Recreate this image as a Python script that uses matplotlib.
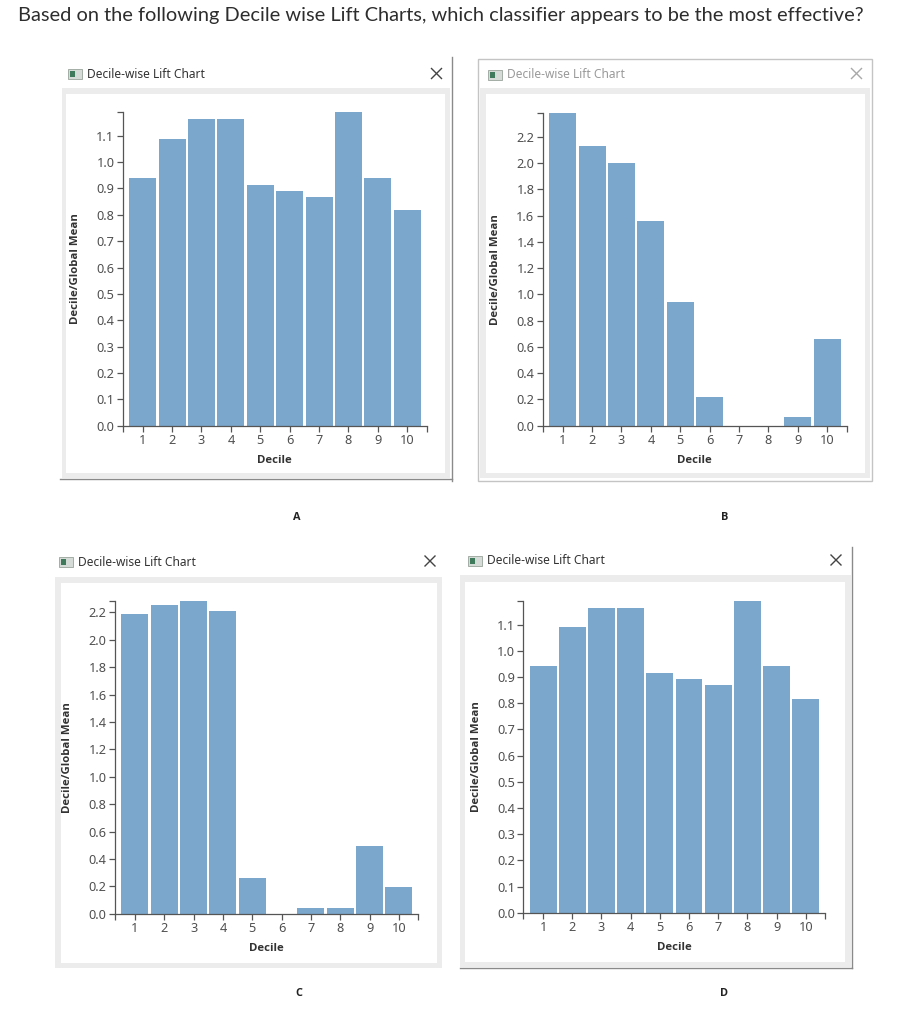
import matplotlib
matplotlib.use("Agg")
import matplotlib.pyplot as plt
from matplotlib.patches import Rectangle
from matplotlib.lines import Line2D

# decile-wise lift values
deciles = [1, 2, 3, 4, 5, 6, 7, 8, 9, 10]
lift_a = [0.940, 1.088, 1.164, 1.164, 0.915, 0.891, 0.869, 1.189, 0.940, 0.818]
lift_b = [2.379, 2.132, 2.003, 1.562, 0.941, 0.219, 0.0, 0.0, 0.066, 0.664]
lift_c = [2.185, 2.254, 2.283, 2.207, 0.263, 0.0, 0.044, 0.044, 0.495, 0.195]
lift_d = [0.941, 1.090, 1.166, 1.166, 0.916, 0.892, 0.869, 1.192, 0.941, 0.818]
ticks_small = [0.0, 0.1, 0.2, 0.3, 0.4, 0.5, 0.6, 0.7, 0.8, 0.9, 1.0, 1.1]
ticks_big = [0.0, 0.2, 0.4, 0.6, 0.8, 1.0, 1.2, 1.4, 1.6, 1.8, 2.0, 2.2]
panel_letters = ["A", "B", "C", "D"]

W, H = 917, 1024
BAR = "#7ba7cc"
AXC = "#555555"
FONT = "Noto Sans"
BOLD = "Open Sans"

fig = plt.figure(figsize=(W / 100, H / 100), dpi=100)


def fx(x):
    return x / W


def fy(y):
    return 1 - y / H


def rect(x0, y0, x1, y1, z=-5, **kw):
    r = Rectangle((fx(x0), fy(y1)), fx(x1) - fx(x0), fy(y0) - fy(y1),
                  transform=fig.transFigure, zorder=z, **kw)
    fig.add_artist(r)


def line(xs, ys, **kw):
    fig.add_artist(Line2D([fx(v) for v in xs], [fy(v) for v in ys],
                          transform=fig.transFigure, **kw))


def window(title, tx, ty, frame, inner, active=True):
    # title bar text, icon and frame around the plot
    col = "#333333" if active else "#9a9a9a"
    rect(tx - 19, ty - 5, tx - 5, ty + 5, facecolor="#d5dbd6", edgecolor="#9aa39c", lw=0.6)
    rect(tx - 17, ty - 3, tx - 12, ty + 3, z=-4, facecolor="#3f7a5c", edgecolor="none")
    fig.text(fx(tx), fy(ty), title, fontsize=8.6, color=col, family=FONT,
             va="center", ha="left")
    rect(*frame, facecolor="#ececec", edgecolor="none")
    rect(*inner, z=-4, facecolor="white", edgecolor="none")


def close_x(cx, cy, col):
    s = 5
    line([cx - s, cx + s], [cy - s, cy + s], color=col, lw=1.0)
    line([cx - s, cx + s], [cy + s, cy - s], color=col, lw=1.0)


def lift_axes(box, values, yticks):
    left, right, bottom, top = box
    ax = fig.add_axes([fx(left), fy(bottom), fx(right) - fx(left), fy(top) - fy(bottom)])
    ax.patch.set_alpha(0)
    ax.bar(deciles, values, width=0.92, color=BAR, edgecolor="none")
    xmin, xmax = 0.32, 10.66
    ax.set_xlim(xmin, xmax)
    ax.set_ylim(0, max(values))
    ax.set_xticks(deciles)
    ax.set_xticklabels([str(d) for d in deciles])
    ax.set_xticks([xmin, xmax], minor=True)
    ax.set_yticks(yticks)
    ax.set_yticklabels(["%.1f" % t for t in yticks])
    ax.set_yticks([max(values)], minor=True)
    ax.tick_params(which="both", direction="out", length=4, width=0.9, color=AXC,
                   labelsize=9.2, labelcolor="#505050", pad=2)
    for lab in ax.get_xticklabels() + ax.get_yticklabels():
        lab.set_family(FONT)
    for s in ["top", "right"]:
        ax.spines[s].set_visible(False)
    for s in ["left", "bottom"]:
        ax.spines[s].set_color(AXC)
        ax.spines[s].set_linewidth(0.9)
    ax.set_xlabel("Decile", fontsize=8.2, fontweight="bold", family=BOLD, color="#333333")
    ax.set_ylabel("Decile/Global Mean", fontsize=8.2, fontweight="bold", family=BOLD,
                  color="#333333")
    w = right - left
    h = bottom - top
    ax.xaxis.set_label_coords(0.5, -29.5 / h)
    ax.yaxis.set_label_coords(-41.5 / w, 0.5)
    return ax


fig.text(fx(18), fy(16), "Based on the following Decile wise Lift Charts, which classifier "
         "appears to be the most effective?", fontsize=14.4, family="Lato",
         color="#2d2d2d", va="center", ha="left")

# A (top left)
window("Decile-wise Lift Chart", 87, 74, (62, 88, 450, 478), (66, 94, 445, 473))
close_x(436.5, 73.5, "#444444")
line([451.5, 451.5], [57, 481], color="#8a8a8a", lw=1.0)
line([60, 451.5], [479, 479], color="#8a8a8a", lw=1.0)
lift_axes((122.7, 426.7, 425.7, 112.3), lift_a, ticks_small)

# B (top right, inactive window)
rect(478, 59, 872, 481, facecolor="none", edgecolor="#c4c4c4", lw=1.0)
window("Decile-wise Lift Chart", 507, 75, (480, 88, 870, 478), (486, 94, 865, 473), active=False)
close_x(856.5, 73.5, "#a8a8a8")
lift_axes((542.7, 846.7, 425.7, 113.3), lift_b, ticks_big)

# C (bottom left)
window("Decile-wise Lift Chart", 78, 562, (55, 577, 442, 968), (61, 583, 437, 963))
close_x(430, 561, "#444444")
lift_axes((115, 418.3, 913.7, 601), lift_c, ticks_big)

# D (bottom right)
window("Decile-wise Lift Chart", 487, 561, (460, 575, 851, 967), (465, 582, 845, 962))
close_x(836, 560, "#444444")
line([851.5, 851.5], [547, 968], color="#8a8a8a", lw=1.0)
line([460, 851.5], [967.5, 967.5], color="#8a8a8a", lw=1.0)
lift_axes((523.3, 825, 912.7, 600.7), lift_d, ticks_small)

for letter, (lx, ly) in zip(panel_letters, [(297, 518), (725, 518), (299, 994), (724, 994)]):
    fig.text(fx(lx), fy(ly), letter, fontsize=7.8, fontweight="bold", family=BOLD,
             color="#222222", ha="center", va="center")

fig.savefig("out.png", dpi=100)
